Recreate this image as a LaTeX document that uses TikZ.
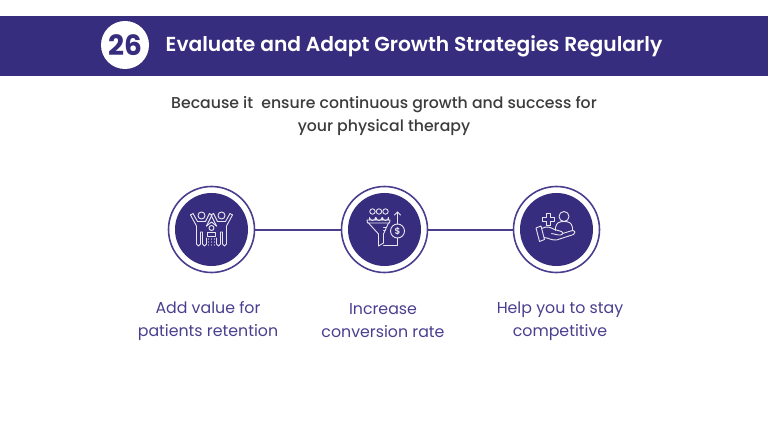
\documentclass[tikz,border=0pt]{standalone}
\usepackage{fontspec}
\setmainfont{Poppins}[BoldFont={Poppins SemiBold}]
\newfontfamily\mediumfont{Poppins Medium}
\newfontfamily\numfont{Poppins}[UprightFont={* Bold}]
\definecolor{band}{HTML}{372D7E}
\definecolor{ringline}{HTML}{4A3F8F}
\definecolor{bodytext}{HTML}{3C3C3C}
\tikzset{
  ring/.style={circle, draw=ringline, line width=1.6pt, minimum size=86pt, inner sep=0pt},
  disc/.style={circle, fill=band, minimum size=73pt, inner sep=0pt},
  link/.style={draw=ringline, line width=2pt},
  icon/.style={draw=white!88!band, line width=0.9pt, line join=round, line cap=round},
  label/.style={text=ringline, align=center, font=\fontsize{15.8}{23}\selectfont}
}
\begin{document}
\begin{tikzpicture}[x=1pt, y=-1pt]
    \useasboundingbox (0,0) rectangle (768,422);
    \fill[white] (0,0) rectangle (768,422);
    \fill[band] (0,16) rectangle (768,76.5);

    \node[circle, fill=white, minimum size=48pt, inner sep=0pt] (num) at (125,45) {};
    \node[text=band, font=\fontsize{28}{28}\selectfont\numfont] (numtext) at (125,45) {26};
    \node[text=white, font=\fontsize{20.25}{24}\selectfont\bfseries] (title) at (414,46.5) {Evaluate and Adapt Growth Strategies Regularly};
    \node[text=bodytext, align=center, font=\fontsize{15.7}{23}\selectfont\mediumfont] (intro) at (384,116) {Because it\ \ ensure continuous growth and success for\\your physical therapy};

    \node[ring] (add) at (211.5,229.5) {};
    \node[ring] (increase) at (384.5,229.5) {};
    \node[ring] (help) at (556.5,229.5) {};
    \node[disc] (adddisc) at (add) {};
    \node[disc] (increasedisc) at (increase) {};
    \node[disc] (helpdisc) at (help) {};

    \draw[link] (add) -- (increase);
    \draw[link] (increase) -- (help);

    \begin{scope}[shift={(211.5,229)}]
      \draw[icon] (-10,-13.5) circle (3.5);
      \draw[icon] (10,-13.5) circle (3.5);
      \draw[icon] (-21,-14) -- (-18.5,-15.5) -- (-14,-7.5) -- (-6,-7.5) -- (-2,-15.5) -- (0.5,-14) -- (-5,-3);
      \draw[icon] (-21,-14) -- (-15,-3) -- (-15,15) -- (-13,17) -- (-11,15) -- (-11,3) -- (-9,3) -- (-9,15) -- (-7,17) -- (-5,15) -- (-5,9);
      \draw[icon] (21,-14) -- (18.5,-15.5) -- (14,-7.5) -- (6,-7.5) -- (2,-15.5) -- (-0.5,-14) -- (5,-3);
      \draw[icon] (21,-14) -- (15,-3) -- (15,15) -- (13,17) -- (11,15) -- (11,3) -- (9,3) -- (9,15) -- (7,17) -- (5,15) -- (5,9);
      \draw[icon] (-5,-3) -- (0,-7) -- (5,-3);
      \draw[icon] (0,-1) circle (2.5);
      \draw[icon] (-4,7) -- (-4,3) -- (4,3) -- (4,7) -- cycle;
      \foreach \px in {-3,0,3}
        \foreach \py in {10,13,16}
          \fill[white!88!band] (\px,\py) circle (0.7);
    \end{scope}

    \begin{scope}[shift={(384.5,230)}]
      \foreach \hx in {-12,-5.5,1} {
        \draw[icon] (\hx,-18.5) circle (2.7);
        \draw[icon] (\hx-3,-10) -- (\hx-3,-12.5) arc (180:0:3) -- (\hx+3,-10);
      }
      \draw[icon] (-17.5,-10) -- (5.5,-10) -- (5,-7) -- (-17,-7) -- cycle;
      \draw[icon] (-16,-7) -- (-6,4) -- (-6,16) -- (-1,13) -- (-1,4) -- (4,-7);
      \draw[icon] (-1,-3) -- (2,-3) (-1,0) -- (0.5,0);
      \draw[icon] (-1,15) -- (13,15) -- (13,8);
      \draw[icon] (13,1) circle (7);
      \node[text=white!88!band, font=\fontsize{9}{9}\selectfont\bfseries] (coin) at (13,1) {\$};
      \draw[icon] (13,-6) -- (13,-18);
      \draw[icon] (10,-15) -- (13,-18) -- (16,-15);
    \end{scope}

    \begin{scope}[shift={(556.5,228.5)}]
      \draw[icon] (7.5,-12) circle (5);
      \draw[icon] (-1,2) -- (-1,-1) .. controls (0,-6) and (3,-7) .. (7.5,-7) .. controls (12,-7) and (15,-6) .. (16,-1) -- (16,2);
      \draw[icon] (-10.5,-15) -- (-6,-15) -- (-6,-11.5) -- (-2.5,-11.5) -- (-2.5,-7) -- (-6,-7) -- (-6,-3.5) -- (-10.5,-3.5) -- (-10.5,-7) -- (-14,-7) -- (-14,-11.5) -- (-10.5,-11.5) -- cycle;
      \draw[icon] (-20.5,-0.5) -- (-15.5,-2.5) -- (-12,11) -- (-17,13) -- cycle;
      \draw[icon] (-15,0) .. controls (-9,-3) and (-6,-1) .. (-2,1) -- (5,3) .. controls (8,5) and (5,7) .. (2,6.5) -- (-5,5);
      \draw[icon] (6,5) -- (16,2) .. controls (19,2) and (19,5) .. (17,6) -- (0,11.5) .. controls (-5,12) and (-9,9) .. (-12.5,9);
    \end{scope}

    \node[label] (addtext) at (208,321) {Add value for\\patients retention};
    \node[label] (increasetext) at (383,321) {Increase\\conversion rate};
    \node[label] (helptext) at (560,321) {Help you to stay\\competitive};
\end{tikzpicture}
\end{document}
